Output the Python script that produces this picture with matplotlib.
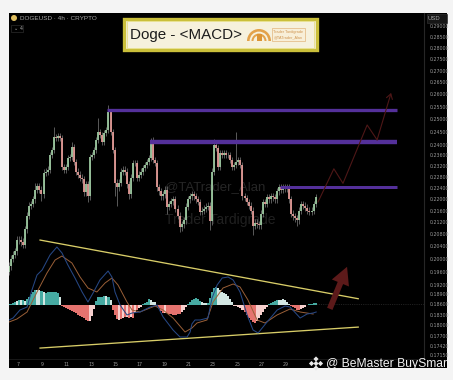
import matplotlib
matplotlib.use("Agg")
import matplotlib.pyplot as plt
from matplotlib.patches import Rectangle, Circle, Wedge, RegularPolygon
from matplotlib.transforms import Affine2D

closes = [.1978,.2001,.2014,.2024,.2061,.2061,.2055,.2046,.2096,.2143,.2177,.2183,.2200,.2234,.2245,.2234,.2217,.2295,.2299,.2306,
.2360,.2380,.2429,.2425,.2433,.2425,.2316,.2306,.2316,.2349,.2353,.2391,.2334,.2299,.2288,.2277,.2270,.2224,.2252,.2210,
.2353,.2360,.2380,.2418,.2449,.2437,.2410,.2445,.2457,.2528,.2449,.2380,.2259,.2242,.2259,.2299,.2306,.2299,.2252,.2217,
.2277,.2330,.2330,.2277,.2288,.2299,.2312,.2323,.2334,.2349,.2418,.2342,.2330,.2242,.2227,.2210,.2217,.2234,.2173,.2183,
.2193,.2200,.2167,.2143,.2103,.2114,.2127,.2173,.2200,.2210,.2217,.2210,.2200,.2190,.2156,.2160,.2167,.2173,.2177,.2124,
.2299,.2398,.2387,.2316,.2368,.2360,.2368,.2360,.2360,.2342,.2316,.2323,.2334,.2342,.2323,.2210,.2204,.2190,.2177,.2160,
.2109,.2118,.2114,.2111,.2150,.2190,.2183,.2207,.2200,.2210,.2207,.2200,.2227,.2242,.2234,.2242,.2238,.2242,.2200,.2150,
.2140,.2134,.2127,.2160,.2183,.2177,.2170,.2160,.2156,.2160,.2183,.2207]
first_open = .1960
high_wicks = {22: .2468, 44: .2504, 49: .2557, 70: .2425, 101: .2422, 112: .2449, 133: .2255, 31: .2410, 13: .2256}
low_wicks = {99: .2093, 120: .2077, 142: .2109, 84: .2087, 39: .2190, 16: .2193, 53: .2177, 52: .2210, 78: .2150, 59: .2200}
wick_pad = .0012

macd_hist = [1,1.5,2,3,4,5,5.5,5,4,6,8,11,13,15,15.5,15,14,13,12.5,13,13,13,13,13.5,12,8,
-1,-2,-3,-4,-5,-6,-7,-8,-9.5,-11,-12,-13,-15,-16,-15.5,-11,-4,
4,8,8,8,9,9,8,5,
-5,-10,-14,-15,-14,-13,-12,-12,-13,-12,-13,-8,-5,-3,-2,
1,2,3,6,5,3,3,
-1,-3,-6,-8,-8,-8,-9,-9,-10,-10,-9,-9,-7,-5,-2,
1,3,5,6,7,6,4,3,2,2,
2,7,13,17,18,17,15,13,12,11,9,6,3,
-1,-1,-2,-3,-5,-7,-10,-13,-15,-17,-18,-16,-13,-10,-7,-4,-2,
1,2,3,4,5,5,5,6,5,3,1,
-1,-2,-3,-5,-5,-4,-3,-2,
.5,1,1,2,2.5]
pale_bars = [4,6,8,14,15,17,25,40,41,42,48,50,54,56,58,60,62,64,65,70,71,72,77,85,86,87,95,96,97,
             103,104,105,106,107,108,109,110,111,112,113,114,115,122,123,124,125,126,127,133,134,135,136,137,138,144,145,146]
macd_x = [0,2,5.4,8.9,11.3,13.8,16.3,20.2,23.6,26.1,29,32.5,36,38.9,41.4,44.8,48.8,50.7,52.2,54.7,58.1,60.6,64.5,69.5,72.9,75.9,
80.8,84.2,87.7,89.2,90.1,91.6,94.1,98,100,102.5,105,107.9,110.4,113.8,117.3,120.2,122.7,127.1,132.1,136,138.4,143.4,146.8,149.8,151.3]
macd_line = [-15,-13,-5,-2,15,30,35,50,58,52,40,27,13,3,12,25,34,28,13,0,-10,-8,-7,-2,0,-12,
-25,-32,-32,-27,-19,-15,-15,-13,7,20,27,28,25,13,-10,-25,-28,-17,-5,-1,-2,-13,-9,-8,-7]
signal_x = [0,3.9,8.9,13.8,18.7,22.7,26.1,31,35,38.9,43.3,47.3,50.7,53.7,58.1,60.6,64.5,71.9,75.9,80.8,86.7,90.1,92.6,97.5,100.5,
105.4,110.4,113.8,117.7,122.2,126.1,132,138.4,143.4,149.8]
signal_line = [-17,-14,-7,13,32,45,49,42,28,17,13,22,27,20,3,-5,-7,-1,-5,-13,-27,-23,-18,-15,3,
17,21,18,5,-15,-18,-10,-4,-7,-9]

level_prices = [.2534, .2410, .2243]
level_starts = [48.3, 69.5, 133.5]
level_end = 191
level_widths = [3.3, 4.4, 3.0]
path_x = [152.2, 160, 164.5, 176.4, 181.3, 188.2]
path_y = [.2190, .2309, .2256, .2476, .2418, .2606]
upper_x, upper_y = [15.3, 172], [.2061, .1877]
lower_x, lower_y = [15.3, 172], [.1735, .1794]
big_arrow_x, big_arrow_y = [158, 166.5], [.1847, .1975]
zero_price = .186

price_ticks = [.29,.285,.28,.275,.27,.265,.26,.255,.25,.245,.24,.236,.232,.228,.224,.22,.216,.212,.208,.204,.20,.196,.192,.189,.186,.183,.18,.177,.1742,.1715]
day_ticks = [4.4,16.4,28.4,40.4,52.4,64.4,76.4,88.4,100.4,112.4,124.4,136.4]
day_labels = ['7','9','11','13','15','17','19','21','23','25','27','29']

W, H = 453, 380
fig = plt.figure(figsize=(W/100, H/100), dpi=100, facecolor='#f4f4f4')
px = Affine2D().scale(1/W, -1/H).translate(0, 1) + fig.transFigure

fig.add_artist(Rectangle((9, 13), 438, 355, transform=px, fc='black', ec='none', zorder=-5))

pos = [9/W, (380-359)/H, (424-9)/W, (359-13)/H]
ax = fig.add_axes(pos, facecolor='none')
ax.set_yscale('log')
ax.set_xlim(0, 204.4)
ax.set_ylim(.1705, .2960)
for s in ax.spines.values():
    s.set_visible(False)
ax.spines['right'].set_visible(True)
ax.spines['right'].set_color('#262626')
ax.spines['right'].set_linewidth(0.8)
ax.spines['bottom'].set_visible(True)
ax.spines['bottom'].set_color('#1c1c1c')
ax.spines['bottom'].set_linewidth(0.6)
ax.yaxis.tick_right()
ax.set_yticks(price_ticks)
ax.set_yticklabels([f'{v:.5f}' for v in price_ticks])
ax.minorticks_off()
ax.set_xticks(day_ticks)
ax.set_xticklabels(day_labels)
ax.tick_params(axis='y', length=0, labelsize=3.4, labelcolor='#9a9a9a', pad=4)
ax.tick_params(axis='x', length=0, labelsize=3.4, labelcolor='#9a9a9a', pad=2.5)

# candles
opens = [first_open] + closes[:-1]
up_c, dn_c = '#9cc9a0', '#e39a96'
for i, (o, c) in enumerate(zip(opens, closes)):
    hi = high_wicks.get(i, max(o, c) + wick_pad)
    lo = low_wicks.get(i, min(o, c) - wick_pad)
    ax.vlines(i, lo, hi, color='#8c8c8c', lw=0.45, zorder=3)
    ax.vlines(i, min(o, c), max(o, c), color=up_c if c >= o else dn_c, lw=1.3, zorder=4)

# levels
for p, s, w in zip(level_prices, level_starts, level_widths):
    ax.hlines(p, s, level_end, color='#54309a', lw=w/1.39, zorder=5)

# projected path
ax.plot(path_x[:-1], path_y[:-1], color='#4e1717', lw=0.8, zorder=6)
ax.annotate('', xy=(path_x[-1], path_y[-1]), xytext=(path_x[-2], path_y[-2]),
            arrowprops=dict(arrowstyle='->,head_length=0.35,head_width=0.22', color='#4e1717', lw=0.8, shrinkA=0, shrinkB=0), zorder=6)

# wedge trendlines
ax.plot(upper_x, upper_y, color='#d8cd68', lw=0.95, zorder=7)
ax.plot(lower_x, lower_y, color='#d8cd68', lw=0.95, zorder=7)
ax.hlines(zero_price, 151, 204.4, color='#3a3a3a', lw=0.4, linestyles=(0, (2, 2)), zorder=1)

ax.annotate('', xy=(big_arrow_x[1], big_arrow_y[1]), xytext=(big_arrow_x[0], big_arrow_y[0]),
            arrowprops=dict(arrowstyle='simple,head_length=0.9,head_width=0.95,tail_width=0.3', mutation_scale=14,
                            color='#5c1a1a', lw=0, shrinkA=0, shrinkB=0), zorder=8)

# MACD pane on own scale
ax2 = fig.add_axes(pos, facecolor='none', frameon=False)
ax2.set_xlim(0, 204.4)
ax2.set_ylim(-54, 292)
ax2.set_xticks([]); ax2.set_yticks([])
hist_colors = []
for i, v in enumerate(macd_hist):
    if v >= 0:
        hist_colors.append('#d2e6e2' if i in pale_bars else '#46aaa2')
    else:
        hist_colors.append('#f6cfcd' if i in pale_bars else '#e5736f')
ax2.bar(range(len(macd_hist)), macd_hist, width=1.0, color=hist_colors, lw=0, zorder=2)
ax2.plot(signal_x, signal_line, color='#9a5f37', lw=0.7, zorder=3)
ax2.plot(macd_x, macd_line, color='#264784', lw=0.75, zorder=4)

# header
fig.add_artist(Circle((14, 18), 3, transform=px, fc='#e0bf60', ec='none'))
fig.text(20, 18.5, 'DOGEUSD · 4h · CRYPTO', transform=px, fontsize=4.6, color='#a8a8a8', va='center', family='Liberation Sans')
fig.add_artist(Rectangle((11, 25), 12, 7, transform=px, fc='black', ec='#2c2c2c', lw=0.5))
fig.text(14, 28.5, '⌄ 4', transform=px, fontsize=3.6, color='#a8a8a8', va='center')
fig.add_artist(Rectangle((427, 14), 20, 9, transform=px, fc='#161616', ec='#2e2e2e', lw=0.5, zorder=6))
fig.text(428, 19, 'USD', transform=px, fontsize=4.2, color='#a8a8a8', va='center', family='Liberation Sans', zorder=7)

# banner
fig.add_artist(Rectangle((124, 18.5), 193, 31.5, transform=px, fc='#f6f1dd', ec='#cabf3a', lw=2.4))
fig.add_artist(Rectangle((127, 21), 187, 26.5, transform=px, fc='none', ec='#e8e08a', lw=0.6))
fig.text(130, 34.5, 'Doge - <MACD>', transform=px, fontsize=10.9, color='#1c1c1c', va='center', family='Liberation Sans')
fig.add_artist(Wedge((259, 41), 12, 180, 360, transform=px, width=2.6, fc='#e3a24a', ec='none'))
fig.add_artist(Wedge((259, 41), 7.5, 180, 360, transform=px, width=2, fc='#e3a24a', ec='none'))
fig.add_artist(Rectangle((257, 34), 4.5, 7, transform=px, fc='#dc9434', ec='none'))
fig.add_artist(Rectangle((272, 28), 33, 13, transform=px, fc='#f8efd8', ec='#e2b67e', lw=0.5))
fig.text(288.5, 31.8, 'Trader Tardigrade', transform=px, fontsize=2.7, color='#cf9550', ha='center', va='center', family='Liberation Sans')
fig.text(288.5, 37, '@TATrader_Alan', transform=px, fontsize=2.7, color='#cf9550', ha='center', va='center', family='Liberation Sans')

# chart watermarks
fig.text(165, 187, '@TATrader_Alan', transform=px, fontsize=9.5, color='#262626', va='center', family='Liberation Sans', zorder=-1)
fig.text(165, 220, 'Trader Tardigrade', transform=px, fontsize=10, color='#202020', va='center', family='Liberation Sans', zorder=-1)

# bottom stamp
for dx, dy in [(0, -4.5), (0, 4.5), (-4.5, 0), (4.5, 0), (0, 0)]:
    fig.add_artist(RegularPolygon((316+dx, 363.5+dy), 4, radius=2.6, transform=px, fc='#e8e8e8', ec='none', zorder=9))
fig.text(326.5, 363.5, '@ BeMaster BuySmart', transform=px, fontsize=8.7, color='#f2f2f2', va='center', family='Liberation Sans', zorder=10)

fig.savefig('out.png', dpi=100, facecolor=fig.get_facecolor())
